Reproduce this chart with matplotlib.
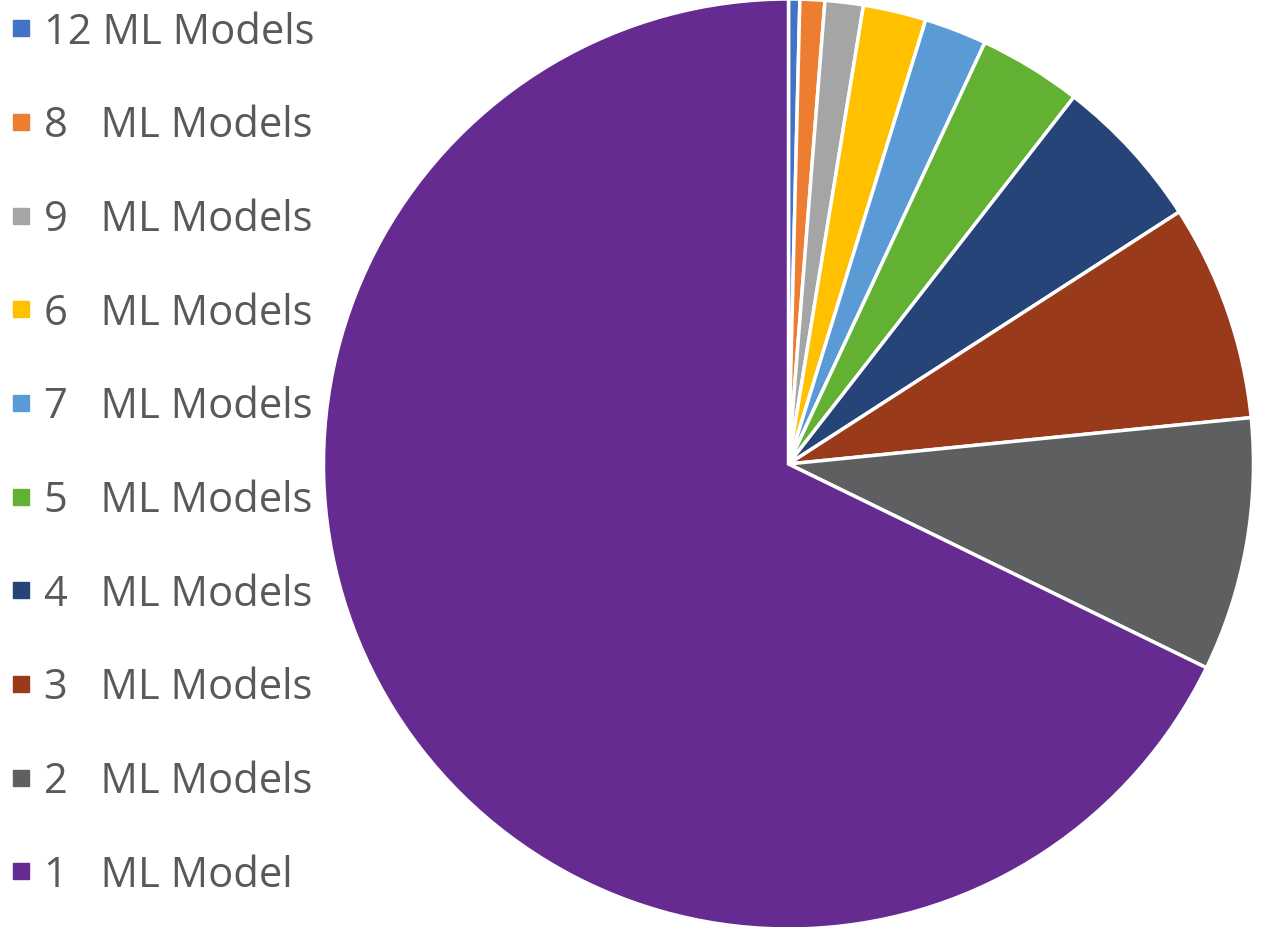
import matplotlib.pyplot as plt
from matplotlib.lines import Line2D

# share of each group (percent)
labels = ["12 ML Models", "8   ML Models", "9   ML Models", "6   ML Models",
          "7   ML Models", "5   ML Models", "4   ML Models", "3   ML Models",
          "2   ML Models", "1   ML Model"]
shares = [0.39, 0.86, 1.33, 2.19, 2.17, 3.58, 5.36, 7.53, 8.81, 67.78]
colors = ["#4472C4", "#ED7D31", "#A5A5A5", "#FFC000", "#5B9BD5",
          "#62B133", "#264478", "#993A1A", "#5E5F61", "#652B91"]

plt.rcParams["font.family"] = ["Open Sans", "DejaVu Sans"]

fig = plt.figure(figsize=(12.67, 9.28), dpi=100)
# pie centre at about (788, 465) px, radius 465 px
ax = fig.add_axes([323.5 / 1267, -2 / 928, 930 / 1267, 930 / 928])
ax.pie(shares, colors=colors, startangle=90, counterclock=False,
       wedgeprops=dict(edgecolor="white", linewidth=2.5))
ax.set_xlim(-1, 1)
ax.set_ylim(-1, 1)
ax.set_aspect("equal")
ax.axis("off")

handles = [Line2D([], [], marker="s", linestyle="none", markersize=11,
                  markerfacecolor=c, markeredgecolor=c) for c in colors]
leg = fig.legend(handles, labels, loc="upper left",
                 bbox_to_anchor=(-8 / 1267, 1 + 7 / 928),
                 frameon=False, fontsize=30, labelspacing=1.24,
                 handlelength=0.5, handletextpad=0.3, borderaxespad=0.45,
                 borderpad=0.0, labelcolor="#595959")

fig.savefig("out.png", dpi=100)
